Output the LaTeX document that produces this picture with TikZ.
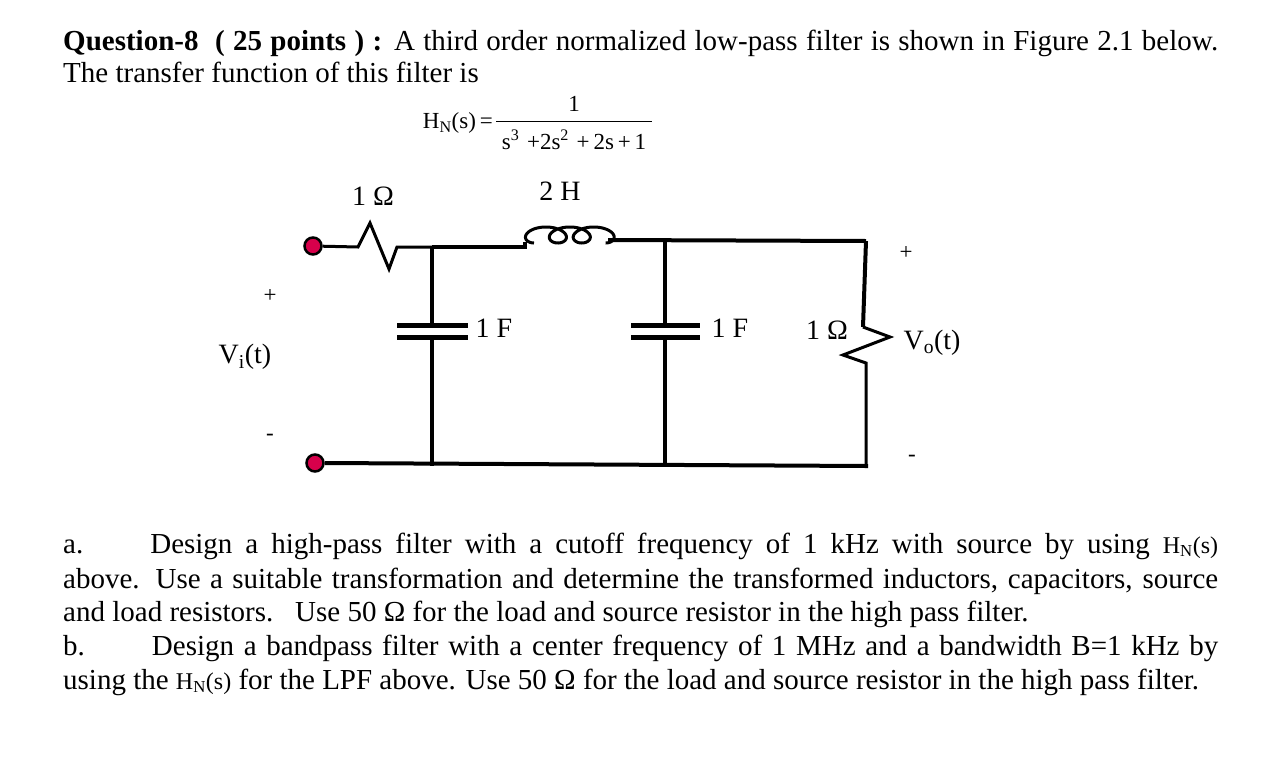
\documentclass[tikz,border=0pt]{standalone}
\usepackage{fontspec}
\setmainfont{Liberation Serif}
\definecolor{termred}{RGB}{215,0,75}
\begin{document}
\begin{tikzpicture}[x=1pt,y=-1pt,
  wire/.style={line width=4pt},
  thin wire/.style={line width=3pt,line join=miter},
  plate/.style={line width=5pt},
  term/.style={circle,draw=black,line width=2.5pt,fill=termred,minimum size=17pt,inner sep=0pt},
  txt/.style={font=\fontsize{29}{34}\selectfont,inner sep=0pt,anchor=base west},
  lab/.style={font=\fontsize{28}{32}\selectfont,inner sep=0pt},
  eq/.style={font=\fontsize{23}{27}\selectfont,inner sep=0pt}]
\useasboundingbox[fill=white] (0,0) rectangle (1280,758);
% header text
\node[txt] (l1) at (63,50) {\makebox[1155pt][s]{\textbf{Question-8\ \ ( 25 points ) :} A third order normalized low-pass filter is shown in Figure 2.1 below.}};
\node[txt] (l2) at (63,82) {The transfer function of this filter is};
% formula
\node[eq,anchor=east] (hn) at (493,123) {H\textsubscript{N}(s)\,=};
\draw[line width=1pt] (496,121) -- (652,121);
\node[eq] (num) at (574,104) {1};
\node[eq] (den) at (574,140) {s\textsuperscript{3}\,\,+2s\textsuperscript{2}\,\,+\,2s\,+\,1};
% circuit
\node[term] (tin) at (313,246) {};
\node[term] (tgnd) at (315,463) {};
\coordinate (r1a) at (358,247);
\coordinate (n1) at (432,247);
\coordinate (la) at (525,242);
\coordinate (lb) at (608,240);
\coordinate (n2) at (665,241);
\coordinate (n3) at (866,241);
\coordinate (b1) at (432,466);
\coordinate (b2) at (665,466);
\coordinate (b3) at (866,466);
\draw[thin wire] (tin) -- (r1a) -- (370,223) -- (389,269) -- (397,247) -- (n1);
\draw[wire] (n1) -- (525,247) -- (la);
\draw[thin wire] plot[domain=0:18.85,samples=200,variable=\t] ({534+3.8*\t-14*sin(\t r)},{235+8*cos(\t r)});
\draw[wire] (lb) -- (n3);
\draw[wire] (n1) -- (432,325);
\draw[wire] (432,337) -- (b1);
\draw[plate] (397,325) -- (468,325);
\draw[plate] (397,337) -- (468,337);
\draw[wire] (n2) -- (665,325);
\draw[wire] (665,337) -- (b2);
\draw[plate] (631,325) -- (700,325);
\draw[plate] (631,337) -- (700,337);
\draw[wire] (n3) -- (863,327);
\draw[thin wire] (863,327) -- (890,337) -- (843,355) -- (866,363) -- (866,466);
\draw[wire] (tgnd.east) -- (b3) -- (866,464);
% labels
\node[lab] (lr1) at (373,196) {1 Ω};
\node[lab] (ll) at (560,191) {2 H};
\node[lab] (lc1) at (494,328) {1 F};
\node[lab] (lc2) at (730,328) {1 F};
\node[lab] (lr2) at (827,330) {1 Ω};
\node[eq] (p1) at (270,296) {+};
\node[lab] (vi) at (245,357) {V\textsubscript{i}(t)};
\node[eq] (m1) at (270,437) {-};
\node[eq] (p2) at (906,253) {+};
\node[lab] (vo) at (932,343) {V\textsubscript{o}(t)};
\node[eq] (m2) at (912,458) {-};
% questions
\newcommand{\hnx}{{\fontsize{24}{28}\selectfont H\textsubscript{N}(s)}}
\node[txt] (a1) at (63,553) {\makebox[1155pt][s]{a.\hspace{67pt}Design a high-pass filter with a cutoff frequency of 1 kHz with source by using \hnx}};
\node[txt] (a2) at (63,588) {\makebox[1155pt][s]{above. Use a suitable transformation and determine the transformed inductors, capacitors, source}};
\node[txt] (a3) at (63,621) {and load resistors.\ \ \ Use 50 Ω for the load and source resistor in the high pass filter.};
\node[txt] (b1t) at (63,655) {\makebox[1155pt][s]{b.\hspace{67pt}Design a bandpass filter with a center frequency of 1 MHz and a bandwidth B=1 kHz by}};
\node[txt] (b2t) at (63,689) {using the \hnx{} for the LPF above. Use 50 Ω for the load and source resistor in the high pass filter.};
\end{tikzpicture}
\end{document}
